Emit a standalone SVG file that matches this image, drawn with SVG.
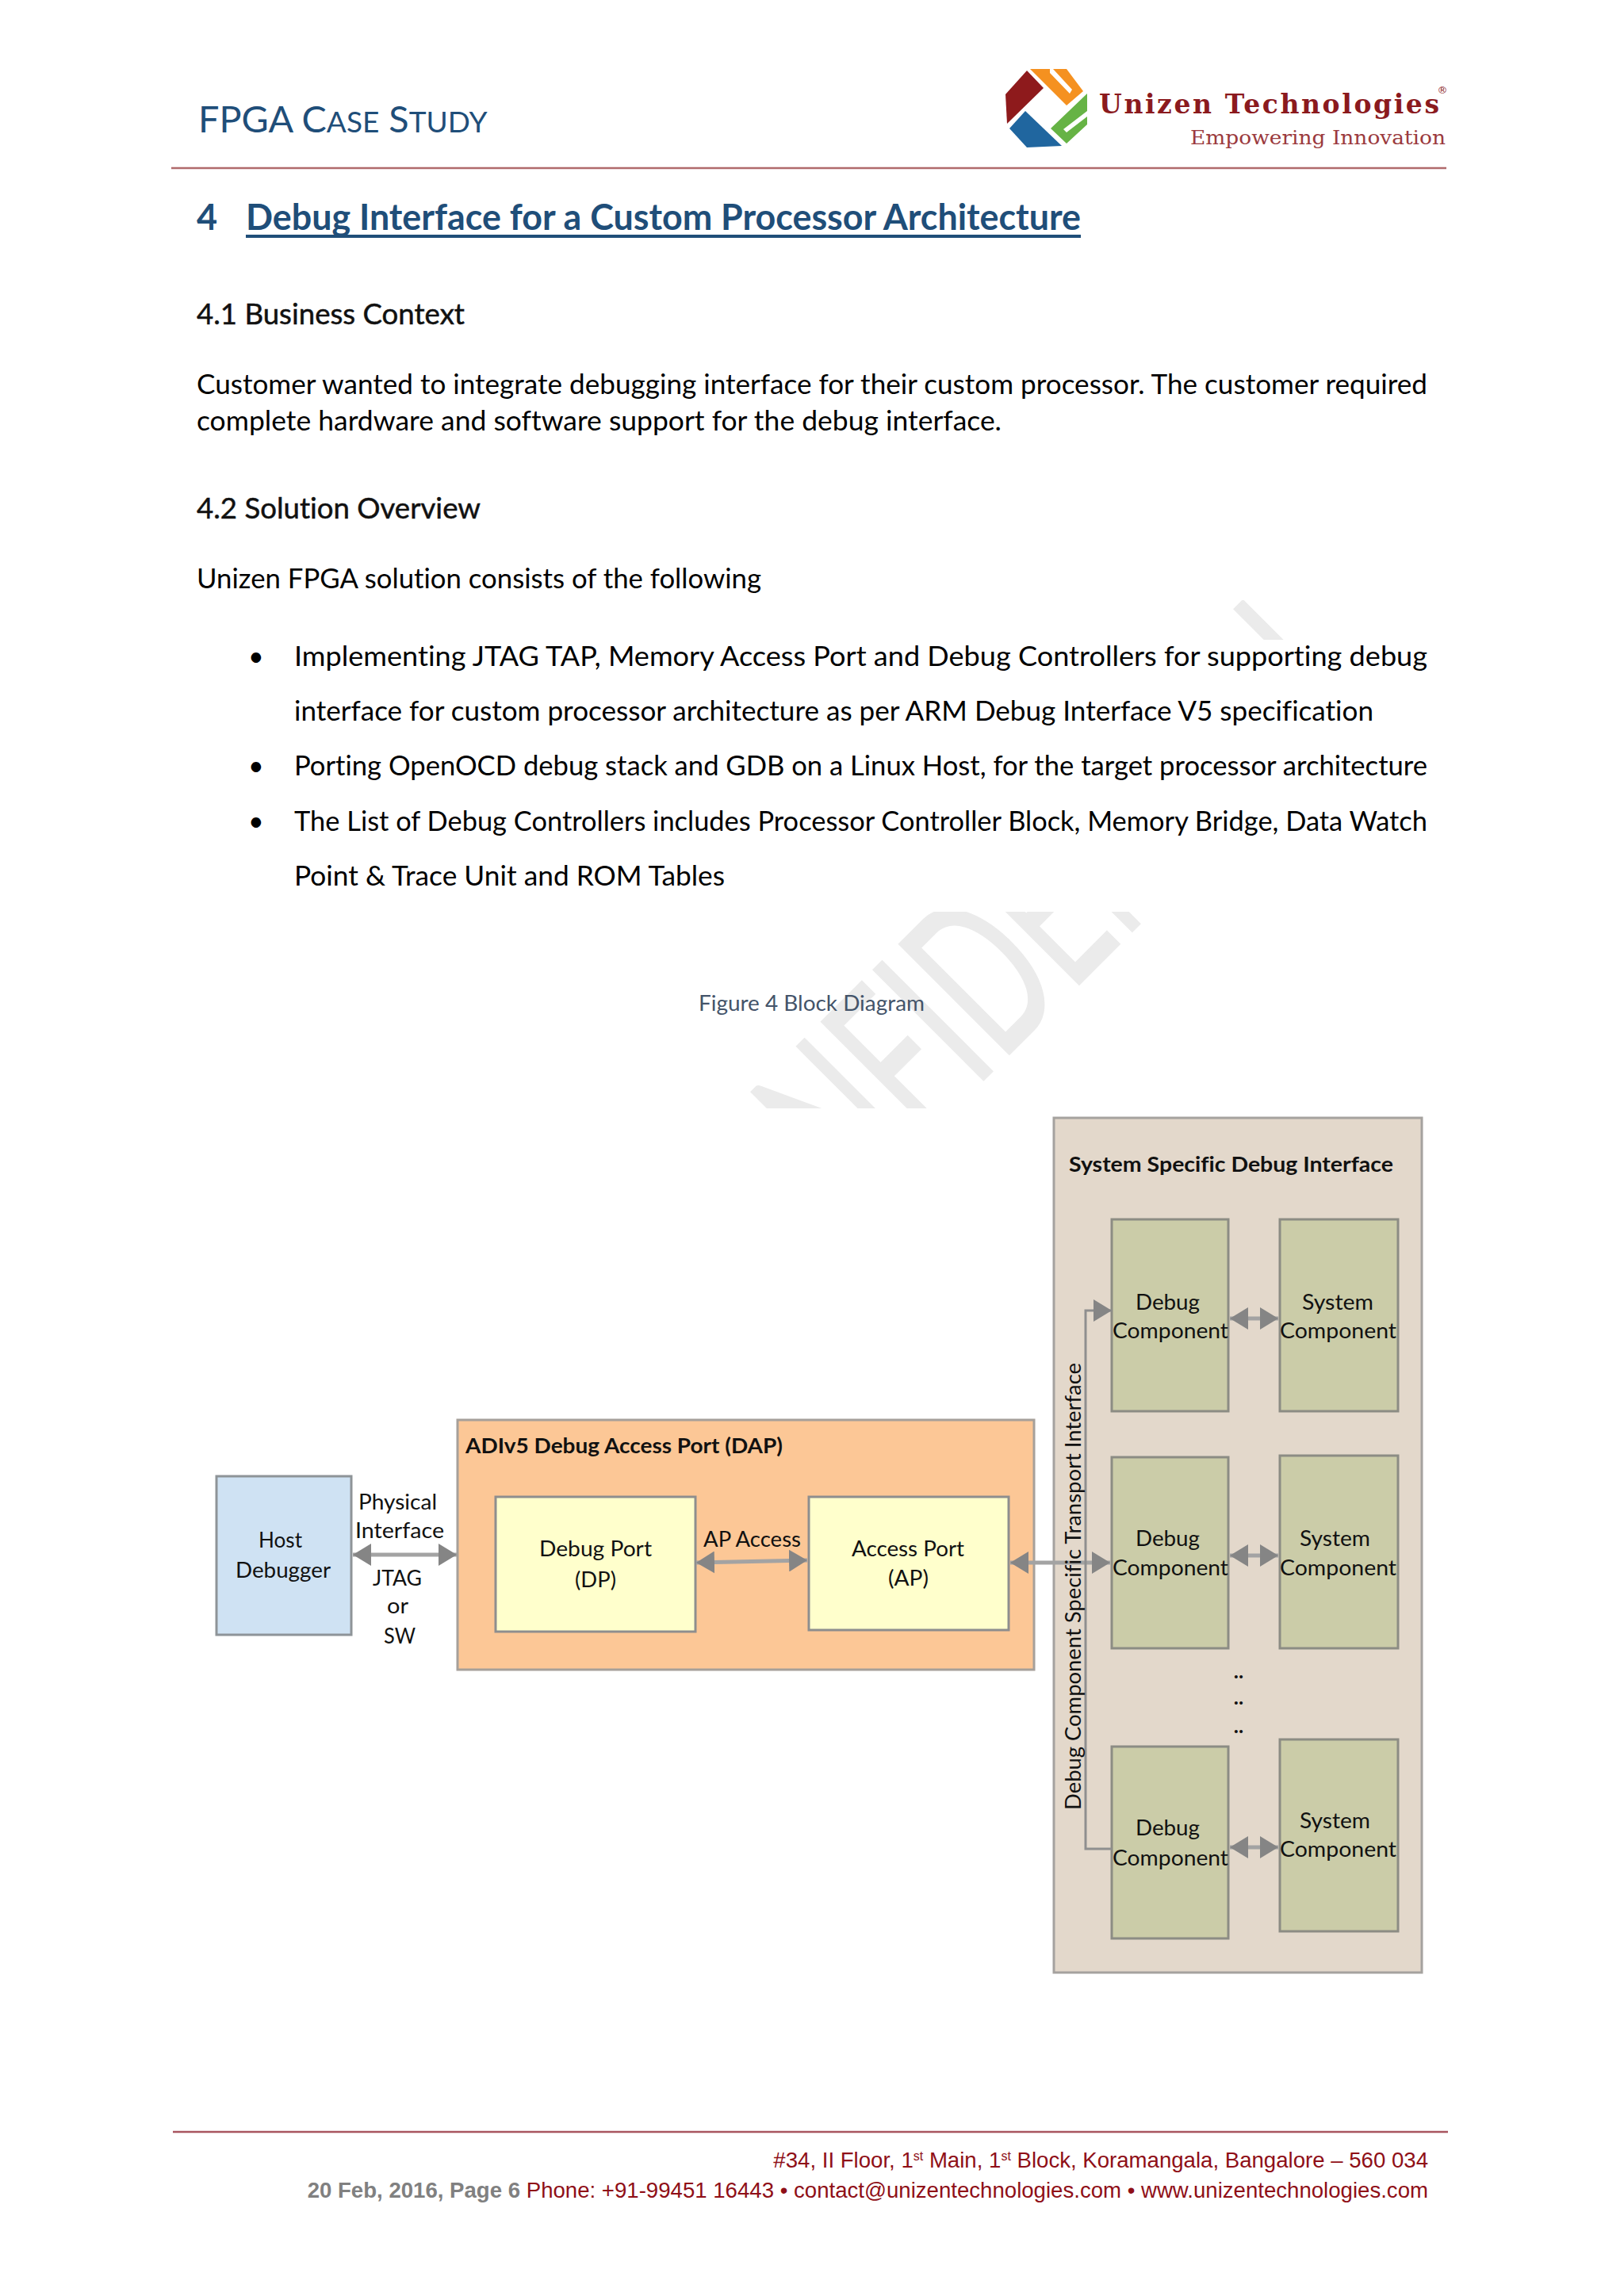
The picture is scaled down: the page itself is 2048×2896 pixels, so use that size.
<svg xmlns="http://www.w3.org/2000/svg" width="2048" height="2896" viewBox="0 0 2048 2896">
<style>
text{font-family:Lato,"Open Sans",sans-serif;font-variant-ligatures:none}
.body{font-size:34px;fill:#000}
.h2{font-size:37px;fill:#111;stroke:#111;stroke-width:.5}
.blue{fill:#1f4e79}
.dg{font-size:26px;fill:#111}
.b{font-weight:700}
.foot{font-family:"Liberation Sans",Arial,sans-serif;font-size:27.6px;fill:#8f0f17}
.box{stroke-width:3}
.comp{fill:#cbcca8;stroke:#8c8c84;stroke-width:3}
.port{fill:#ffffcc;stroke:#8e8e8e;stroke-width:3}
.conn{fill:none;stroke:#a3a3a3;stroke-width:5}
.thin{fill:none;stroke:#8f8f8f;stroke-width:3}
.mid{text-anchor:middle}
</style>
<defs>
<marker id="ah" markerUnits="userSpaceOnUse" markerWidth="24" markerHeight="28" refX="23" refY="14" orient="auto-start-reverse"><path d="M0 0L23 14L0 28Z" fill="#858585"/></marker>
<clipPath id="wm"><rect x="880" y="1150" width="600" height="248"/><rect x="1540" y="757" width="80" height="50"/></clipPath>
</defs>
<rect width="2048" height="2896" fill="#fff"/>

<g id="watermark" clip-path="url(#wm)"><text transform="translate(907 1695) rotate(-45) scale(.6 1)" font-size="273" fill="#ebebeb" stroke="#ebebeb" stroke-width="3">CONFIDENTIAL</text></g>

<g id="header">
<text x="250" y="167" class="blue" font-size="46.8">FPGA C<tspan font-size="37">ASE</tspan> S<tspan font-size="37">TUDY</tspan></text>
<g id="logo">
<path d="M1295 89L1316 111L1270 156L1268 119Z" fill="#8e1a1c"/>
<path d="M1299 87H1324V92L1349 118L1352 113L1328 87H1345L1366 115L1345 133Z" fill="#f59120"/>
<path d="M1371 118V140L1341 163L1345 167L1371 147V157L1345 181L1325 162Z" fill="#66b345"/>
<path d="M1293 140L1339 184L1295 186L1273 162Z" fill="#20669f"/>
</g>
<text x="1386" y="143" font-size="33" font-weight="700" fill="#8b1a1e" style="font-family:'DejaVu Serif',serif" textLength="429" lengthAdjust="spacing">Unizen Technologies</text>
<text x="1819" y="118" font-size="13" fill="#8b1a1e" style="font-family:'DejaVu Sans',sans-serif" class="mid">®</text>
<text x="1501" y="182" font-size="24" fill="#9b3a3d" style="font-family:'DejaVu Serif',serif" textLength="322" lengthAdjust="spacingAndGlyphs">Empowering Innovation</text>
<line x1="216" y1="212" x2="1824" y2="212" stroke="#b06a6c" stroke-width="2.5"/>
</g>

<g id="content">
<text x="248" y="290" class="blue b" font-size="45">4</text>
<text x="310" y="290" class="blue b" font-size="45" textLength="1053" lengthAdjust="spacingAndGlyphs">Debug Interface for a Custom Processor Architecture</text>
<rect x="310" y="296" width="1053" height="4" fill="#1f4e79"/>
<text x="248" y="409" class="h2" textLength="338" lengthAdjust="spacingAndGlyphs">4.1 Business Context</text>
<text x="248" y="497" class="body" textLength="1552" lengthAdjust="spacingAndGlyphs">Customer wanted to integrate debugging interface for their custom processor. The customer required</text>
<text x="248" y="543" class="body" textLength="1015" lengthAdjust="spacingAndGlyphs">complete hardware and software support for the debug interface.</text>
<text x="248" y="654" class="h2" textLength="358" lengthAdjust="spacingAndGlyphs">4.2 Solution Overview</text>
<text x="248" y="742" class="body" textLength="712" lengthAdjust="spacingAndGlyphs">Unizen FPGA solution consists of the following</text>
<text x="313" y="840" class="body">•</text>
<text x="371" y="840" class="body" textLength="1429" lengthAdjust="spacingAndGlyphs">Implementing JTAG TAP, Memory Access Port and Debug Controllers for supporting debug</text>
<text x="371" y="909" class="body" textLength="1361" lengthAdjust="spacingAndGlyphs">interface for custom processor architecture as per ARM Debug Interface V5 specification</text>
<text x="313" y="978" class="body">•</text>
<text x="371" y="978" class="body" textLength="1429" lengthAdjust="spacingAndGlyphs">Porting OpenOCD debug stack and GDB on a Linux Host, for the target processor architecture</text>
<text x="313" y="1048" class="body">•</text>
<text x="371" y="1048" class="body" textLength="1429" lengthAdjust="spacingAndGlyphs">The List of Debug Controllers includes Processor Controller Block, Memory Bridge, Data Watch</text>
<text x="371" y="1117" class="body" textLength="543" lengthAdjust="spacingAndGlyphs">Point &amp; Trace Unit and ROM Tables</text>
<text x="881" y="1275" font-size="27" fill="#44546a" textLength="285" lengthAdjust="spacingAndGlyphs">Figure 4 Block Diagram</text>
</g>

<g id="host"><rect class="box" x="273" y="1862" width="170" height="200" fill="#cfe2f3" stroke="#8e9498"/>
<text class="dg" x="326" y="1952" textLength="55" lengthAdjust="spacingAndGlyphs">Host</text>
<text class="dg" x="297" y="1990" textLength="120" lengthAdjust="spacingAndGlyphs">Debugger</text></g>

<g id="dap"><rect class="box" x="577" y="1791" width="727" height="315" fill="#fcc796" stroke="#a6a09a"/>
<text class="dg b" x="587" y="1833" textLength="400" lengthAdjust="spacingAndGlyphs">ADIv5 Debug Access Port (DAP)</text></g>
<g id="dp"><rect class="port" x="625" y="1888" width="252" height="170"/>
<text class="dg" x="680" y="1963" textLength="142" lengthAdjust="spacingAndGlyphs">Debug Port</text>
<text class="dg" x="725" y="2002" textLength="52" lengthAdjust="spacingAndGlyphs">(DP)</text></g>
<g id="ap"><rect class="port" x="1020" y="1888" width="252" height="168"/>
<text class="dg" x="1074" y="1963" textLength="142" lengthAdjust="spacingAndGlyphs">Access Port</text>
<text class="dg" x="1120" y="2000" textLength="51" lengthAdjust="spacingAndGlyphs">(AP)</text></g>

<g id="system"><rect class="box" x="1329" y="1410" width="464" height="1078" fill="#e3d8cb" stroke="#a5a29f"/>
<text class="dg b" x="1348" y="1478" textLength="409" lengthAdjust="spacingAndGlyphs">System Specific Debug Interface</text>
<text class="dg b" x="1562" y="2117" text-anchor="middle">..</text>
<text class="dg b" x="1562" y="2150" text-anchor="middle">..</text>
<text class="dg b" x="1562" y="2186" text-anchor="middle">..</text></g>

<g id="debug1"><rect class="comp" x="1402" y="1538" width="147" height="242"/>
<text class="dg" x="1432" y="1652" textLength="81" lengthAdjust="spacingAndGlyphs">Debug</text>
<text class="dg" x="1403" y="1688" textLength="146" lengthAdjust="spacingAndGlyphs">Component</text></g>
<g id="system1"><rect class="comp" x="1614" y="1538" width="149" height="242"/>
<text class="dg" x="1642" y="1652" textLength="90" lengthAdjust="spacingAndGlyphs">System</text>
<text class="dg" x="1614" y="1688" textLength="147" lengthAdjust="spacingAndGlyphs">Component</text></g>
<g id="debug2"><rect class="comp" x="1402" y="1838" width="147" height="241"/>
<text class="dg" x="1432" y="1950" textLength="81" lengthAdjust="spacingAndGlyphs">Debug</text>
<text class="dg" x="1403" y="1987" textLength="146" lengthAdjust="spacingAndGlyphs">Component</text></g>
<g id="system2"><rect class="comp" x="1614" y="1836" width="149" height="243"/>
<text class="dg" x="1639" y="1950" textLength="89" lengthAdjust="spacingAndGlyphs">System</text>
<text class="dg" x="1614" y="1987" textLength="147" lengthAdjust="spacingAndGlyphs">Component</text></g>
<g id="debug3"><rect class="comp" x="1402" y="2203" width="147" height="242"/>
<text class="dg" x="1432" y="2315" textLength="81" lengthAdjust="spacingAndGlyphs">Debug</text>
<text class="dg" x="1403" y="2353" textLength="146" lengthAdjust="spacingAndGlyphs">Component</text></g>
<g id="system3"><rect class="comp" x="1614" y="2194" width="149" height="242"/>
<text class="dg" x="1639" y="2306" textLength="89" lengthAdjust="spacingAndGlyphs">System</text>
<text class="dg" x="1614" y="2342" textLength="147" lengthAdjust="spacingAndGlyphs">Component</text></g>

<g id="connectors">
<line class="conn" x1="445" y1="1961" x2="576" y2="1961" marker-start="url(#ah)" marker-end="url(#ah)"/>
<line class="conn" x1="878" y1="1971" x2="1018" y2="1968" marker-start="url(#ah)" marker-end="url(#ah)"/>
<line class="conn" x1="1274" y1="1971" x2="1400" y2="1971" marker-start="url(#ah)" marker-end="url(#ah)"/>
<path class="thin" d="M1402 2332H1369V1653H1402" marker-end="url(#ah)"/>
<line class="conn" x1="1551" y1="1663" x2="1612" y2="1663" marker-start="url(#ah)" marker-end="url(#ah)"/>
<line class="conn" x1="1551" y1="1962" x2="1612" y2="1962" marker-start="url(#ah)" marker-end="url(#ah)"/>
<line class="conn" x1="1551" y1="2330" x2="1612" y2="2330" marker-start="url(#ah)" marker-end="url(#ah)"/>
</g>

<g id="labels">
<text class="dg" transform="translate(1363 2283) rotate(-90)" textLength="564" lengthAdjust="spacingAndGlyphs">Debug Component Specific Transport Interface</text>
<text class="dg" x="452" y="1904" textLength="99" lengthAdjust="spacingAndGlyphs">Physical</text>
<text class="dg" x="448" y="1940" textLength="112" lengthAdjust="spacingAndGlyphs">Interface</text>
<text class="dg" x="470" y="2000" textLength="62" lengthAdjust="spacingAndGlyphs">JTAG</text>
<text class="dg" x="488" y="2035" textLength="27" lengthAdjust="spacingAndGlyphs">or</text>
<text class="dg" x="484" y="2073" textLength="40" lengthAdjust="spacingAndGlyphs">SW</text>
<text class="dg" x="887" y="1951" textLength="123" lengthAdjust="spacingAndGlyphs">AP Access</text>
</g>

<g id="footer">
<line x1="218" y1="2689" x2="1826" y2="2689" stroke="#a8555f" stroke-width="2.5"/>
<text class="foot" x="1801" y="2734" text-anchor="end">#34, II Floor, 1<tspan font-size="16" dy="-9">st</tspan><tspan dy="9"> Main, 1</tspan><tspan font-size="16" dy="-9">st</tspan><tspan dy="9"> Block, Koramangala, Bangalore – 560 034</tspan></text>
<text class="foot" x="1801" y="2772" text-anchor="end"><tspan font-weight="700" fill="#808080">20 Feb, 2016, Page 6 </tspan>Phone: +91-99451 16443 • contact@unizentechnologies.com • www.unizentechnologies.com</text>
</g>
</svg>
